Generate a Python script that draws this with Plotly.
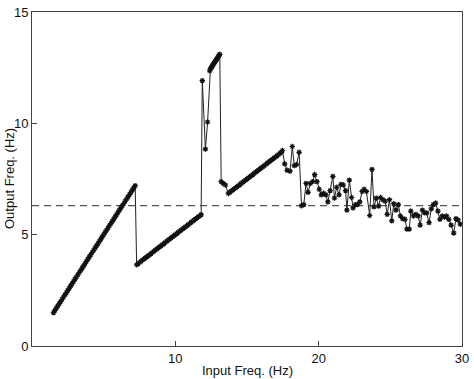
import plotly.graph_objects as go

# Values, one list pair per visible segment
seg1_in = [1.5, 1.6, 1.7, 1.8, 1.9, 2.0, 2.1, 2.2, 2.3, 2.4, 2.5, 2.6, 2.7, 2.8,
           2.9, 3.0, 3.1, 3.2, 3.3, 3.4, 3.5, 3.6, 3.7, 3.8, 3.9, 4.0, 4.1, 4.2,
           4.3, 4.4, 4.5, 4.6, 4.7, 4.8, 4.9, 5.0, 5.1, 5.2, 5.3, 5.4, 5.5, 5.6,
           5.7, 5.8, 5.9, 6.0, 6.1, 6.2, 6.3, 6.4, 6.5, 6.6, 6.7, 6.8, 6.9, 7.0,
           7.1, 7.2]
seg1_out = [1.5, 1.6, 1.7, 1.8, 1.9, 2.0, 2.1, 2.2, 2.3, 2.4, 2.5, 2.6, 2.7, 2.8,
            2.9, 3.0, 3.1, 3.2, 3.3, 3.4, 3.5, 3.6, 3.7, 3.8, 3.9, 4.0, 4.1, 4.2,
            4.3, 4.4, 4.5, 4.6, 4.7, 4.8, 4.9, 5.0, 5.1, 5.2, 5.3, 5.4, 5.5, 5.6,
            5.7, 5.8, 5.9, 6.0, 6.1, 6.2, 6.3, 6.4, 6.5, 6.6, 6.7, 6.8, 6.9, 7.0,
            7.1, 7.2]

seg2_in = [7.3, 7.4, 7.5, 7.6, 7.7, 7.8, 7.9, 8.0, 8.1, 8.2, 8.3, 8.4, 8.5, 8.6,
           8.7, 8.8, 8.9, 9.0, 9.1, 9.2, 9.3, 9.4, 9.5, 9.6, 9.7, 9.8, 9.9, 10.0,
           10.1, 10.2, 10.3, 10.4, 10.5, 10.6, 10.7, 10.8, 10.9, 11.0, 11.1, 11.2,
           11.3, 11.4, 11.5, 11.6, 11.7, 11.8]
seg2_out = [3.65, 3.7, 3.75, 3.8, 3.85, 3.9, 3.95, 4.0, 4.05, 4.1, 4.15, 4.2,
            4.25, 4.3, 4.35, 4.4, 4.45, 4.5, 4.55, 4.6, 4.65, 4.7, 4.75, 4.8,
            4.85, 4.9, 4.95, 5.0, 5.05, 5.1, 5.15, 5.2, 5.25, 5.3, 5.35, 5.4,
            5.45, 5.5, 5.55, 5.6, 5.65, 5.7, 5.75, 5.8, 5.85, 5.9]

seg3_in = [11.88, 12.1, 12.25, 12.4, 12.45, 12.5, 12.55, 12.6, 12.65, 12.7,
           12.75, 12.8, 12.85, 12.9, 12.95, 13.0, 13.05, 13.1,
           13.2, 13.33, 13.5]
seg3_out = [11.92, 8.84, 10.06, 12.36, 12.45, 12.5, 12.55, 12.6, 12.65, 12.7,
            12.75, 12.8, 12.85, 12.9, 12.95, 13.0, 13.05, 13.1,
            7.38, 7.3, 7.23]

seg4_in = [13.7, 13.8, 13.9, 14.0, 14.1, 14.2, 14.3, 14.4, 14.5, 14.6, 14.7,
           14.8, 14.9, 15.0, 15.1, 15.2, 15.3, 15.4, 15.5, 15.6, 15.7, 15.8,
           15.9, 16.0, 16.1, 16.2, 16.3, 16.4, 16.5, 16.6, 16.7, 16.8, 16.9,
           17.0, 17.1, 17.2, 17.3, 17.4, 17.47]
seg4_out = [6.85, 6.9, 6.95, 7.0, 7.05, 7.1, 7.15, 7.2, 7.25, 7.3, 7.35, 7.4,
            7.45, 7.5, 7.55, 7.6, 7.65, 7.7, 7.75, 7.8, 7.85, 7.9, 7.95, 8.0,
            8.05, 8.1, 8.15, 8.2, 8.25, 8.3, 8.35, 8.4, 8.45, 8.5, 8.55, 8.6,
            8.65, 8.7, 8.78]

seg5_in = [
    17.63, 17.8, 18.0, 18.16, 18.3, 18.46, 18.64, 18.8, 18.96, 19.12, 19.26,
    19.42, 19.58, 19.72, 19.88, 20.04, 20.18, 20.34, 20.5, 20.64, 20.8, 20.99,
    21.1, 21.26, 21.42, 21.56, 21.72, 21.88, 21.97, 22.14, 22.3, 22.4, 22.57,
    22.7, 22.87, 23.03, 23.17, 23.33, 23.56, 23.72, 23.86, 24.02, 24.18, 24.32,
    24.48, 24.64, 24.78, 24.94, 25.1, 25.24, 25.4, 25.56, 25.7, 25.86, 26.02,
    26.16, 26.32, 26.43, 26.62, 26.78, 26.94, 27.08, 27.24, 27.4, 27.54, 27.7,
    27.86, 28.0, 28.16, 28.32, 28.46, 28.62, 28.78, 28.92, 29.08, 29.24, 29.42,
    29.58, 29.72, 29.88,
]
seg5_out = [
    8.18, 7.89, 7.85, 8.96, 8.1, 8.15, 8.7, 6.3, 6.35, 7.3, 6.9,
    7.3, 7.38, 7.7, 7.38, 7.04, 6.79, 6.86, 6.79, 6.47, 6.98, 7.62,
    6.64, 7.13, 6.79, 7.26, 7.23, 6.98, 6.1, 7.45, 6.67, 6.2, 6.35,
    6.35, 6.47, 6.94, 7.04, 6.94, 5.86, 7.93, 6.25, 6.64, 6.28, 6.67,
    6.57, 6.5, 5.91, 6.57, 5.62, 6.39, 6.1, 6.35, 5.84, 5.72, 5.69,
    5.25, 5.25, 6.06, 5.84, 5.91, 5.84, 5.43, 6.1, 5.98, 5.98, 5.54,
    6.16, 6.35, 6.42, 6.06, 5.69, 5.84, 5.79, 5.84, 5.69, 5.43, 5.07,
    5.72, 5.66, 5.47,
]

input_freq = seg1_in + seg2_in + seg3_in + seg4_in + seg5_in
output_freq = seg1_out + seg2_out + seg3_out + seg4_out + seg5_out

threshold_x = [0, 30]
threshold_y = [6.3, 6.3]

x_ticks = [10, 20, 30]
y_ticks = [0, 5, 10, 15]

fig = go.Figure()
fig.add_trace(go.Scatter(
    x=threshold_x, y=threshold_y, mode="lines",
    line=dict(color="#555555", width=1.3, dash="7px,5px"),
    showlegend=False, hoverinfo="skip",
))
fig.add_trace(go.Scatter(
    x=input_freq, y=output_freq, mode="lines+markers",
    line=dict(color="#222222", width=1),
    marker=dict(symbol="asterisk-open", size=4.5, color="#111111",
                line=dict(color="#111111", width=1.2)),
    showlegend=False,
))

font = dict(family="Liberation Sans, Arial, sans-serif", size=13, color="#111111")

fig.update_layout(
    width=474, height=379,
    margin=dict(l=32, r=7, t=5, b=33),
    paper_bgcolor="white", plot_bgcolor="white",
    font=font,
    xaxis=dict(
        range=[0, 30], tickvals=x_ticks, ticks="inside", ticklen=5,
        tickcolor="#444444", showgrid=False, zeroline=False,
        showline=True, linecolor="#444444", linewidth=1, mirror=True,
        tickfont=font, ticklabeloverflow="allow",
    ),
    yaxis=dict(
        range=[0, 15], tickvals=y_ticks, ticks="inside", ticklen=5,
        tickcolor="#444444", showgrid=False, zeroline=False,
        showline=True, linecolor="#444444", linewidth=1, mirror=True,
        tickfont=font, ticklabeloverflow="allow",
    ),
    annotations=[
        dict(text="Input Freq. (Hz)", xref="paper", yref="paper",
             x=0.5, y=0, yshift=-24, xanchor="center", yanchor="middle",
             showarrow=False, font=font),
        dict(text="Output Freq. (Hz)", xref="paper", yref="paper",
             x=0, y=0.5, xshift=-23, xanchor="center", yanchor="middle",
             textangle=-90, showarrow=False, font=font),
    ],
)

fig.write_html(
    "out.html",
    config={"displayModeBar": False},
    post_script="document.body.style.margin='0px';document.body.style.overflow='hidden';",
)
